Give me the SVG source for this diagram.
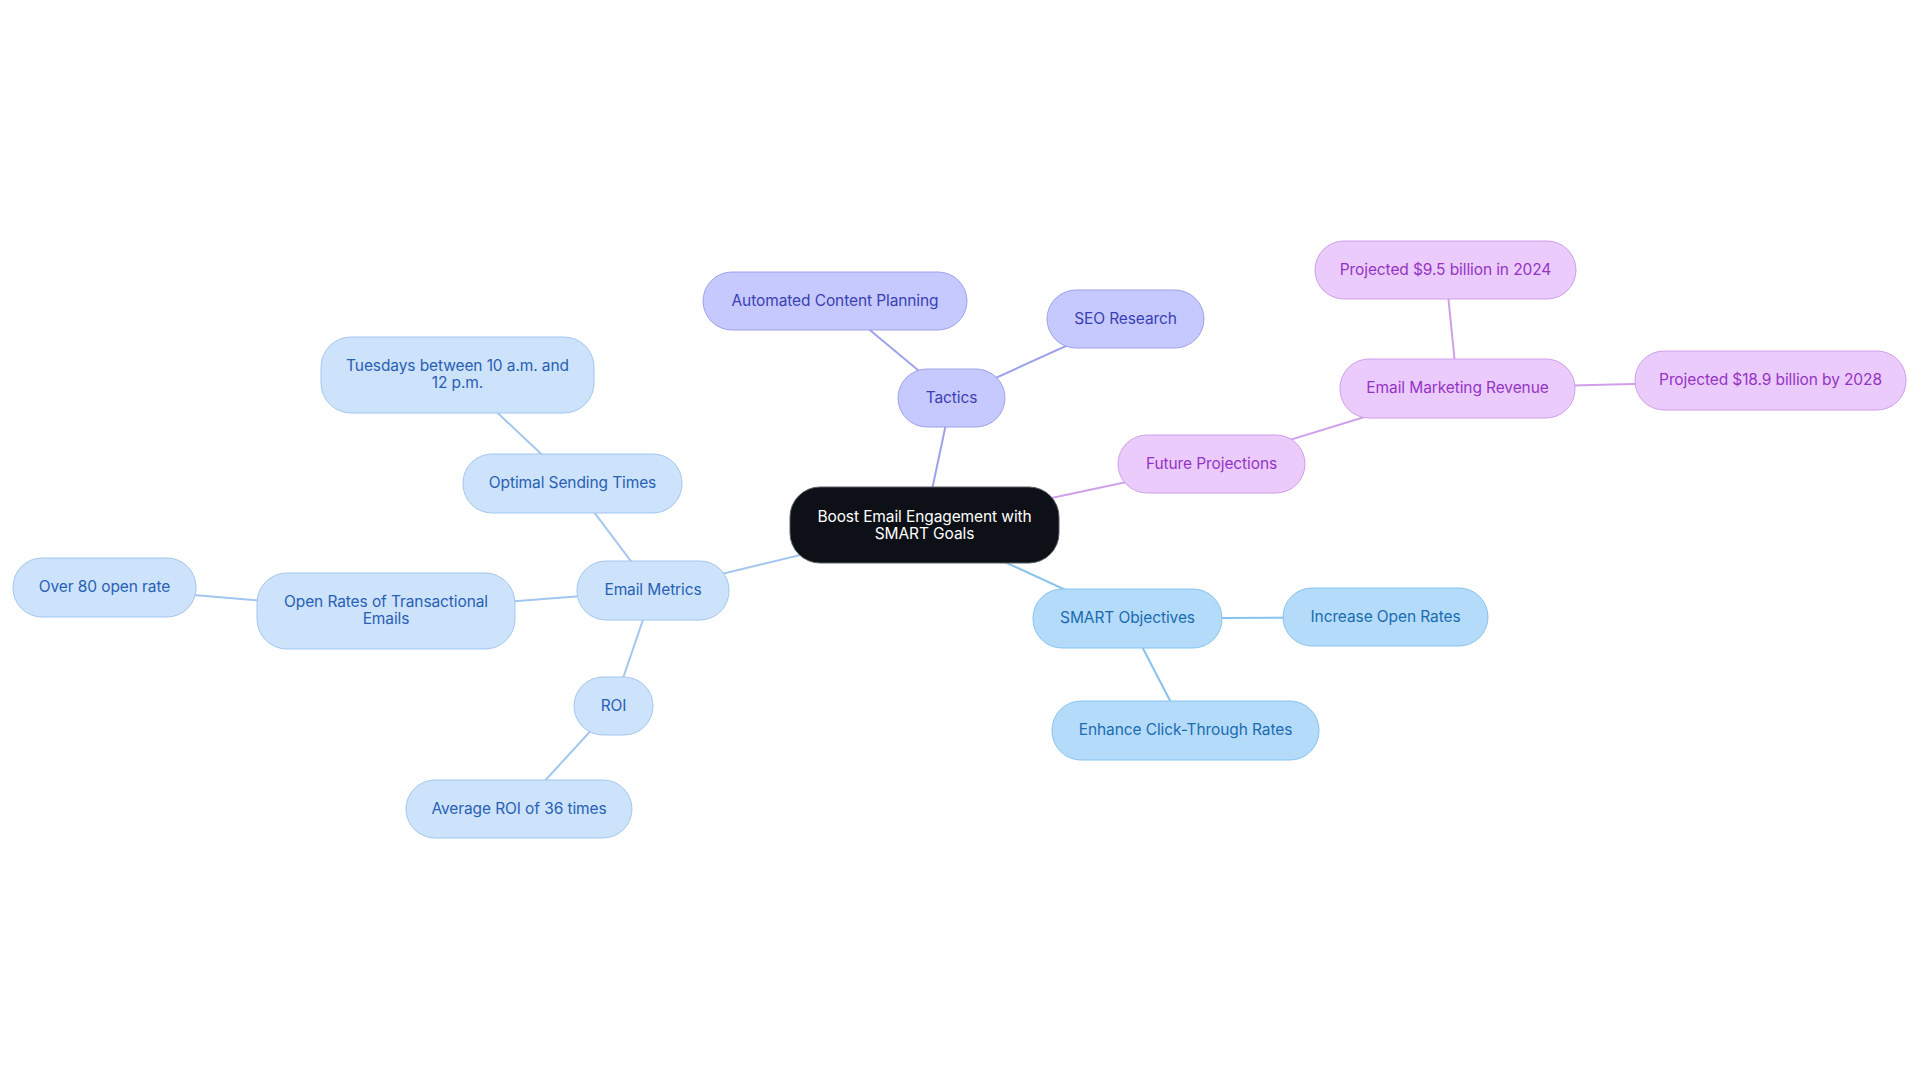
<svg xmlns="http://www.w3.org/2000/svg" width="1920" height="1083" viewBox="0 0 1920 1083">
<style>
text{font-family:Inter,"Noto Sans","Liberation Sans",sans-serif;font-size:15.5px;text-anchor:middle;dominant-baseline:central;letter-spacing:-0.1px}
.e{stroke-width:2;fill:none}
.root rect{fill:#0d1117;stroke:#5a5f66;stroke-width:1}
.root text{fill:#ffffff}
.ind rect{fill:#c6c9fd;stroke:#9ea2ea;stroke-width:1}
.ind text{fill:#3a3fb2}
.pur rect{fill:#ebcbfc;stroke:#cf9fea;stroke-width:1}
.pur text{fill:#9434c4}
.sky rect{fill:#b4dcfa;stroke:#88c3ef;stroke-width:1}
.sky text{fill:#1b6bb0}
.blu rect{fill:#cde3fb;stroke:#a3c6ee;stroke-width:1}
.blu text{fill:#2860b4}
</style>
<rect width="1920" height="1083" fill="#ffffff"/>
<g id="connectors">
<line class="e" stroke="#9ea2ea" x1="924.5" y1="525" x2="951.5" y2="398"/>
<line class="e" stroke="#9ea2ea" x1="951.5" y1="398" x2="835" y2="301"/>
<line class="e" stroke="#9ea2ea" x1="951.5" y1="398" x2="1125.5" y2="319"/>
<line class="e" stroke="#cf9fea" x1="924.5" y1="525" x2="1211.5" y2="464"/>
<line class="e" stroke="#cf9fea" x1="1211.5" y1="464" x2="1457.5" y2="388.5"/>
<line class="e" stroke="#cf9fea" x1="1457.5" y1="388.5" x2="1445.5" y2="270"/>
<line class="e" stroke="#cf9fea" x1="1457.5" y1="388.5" x2="1770.5" y2="380.5"/>
<line class="e" stroke="#88c3ef" x1="924.5" y1="525" x2="1127.5" y2="618.5"/>
<line class="e" stroke="#88c3ef" x1="1127.5" y1="618.5" x2="1385.5" y2="617"/>
<line class="e" stroke="#88c3ef" x1="1127.5" y1="618.5" x2="1185.5" y2="730.5"/>
<line class="e" stroke="#a3c6ee" x1="924.5" y1="525" x2="653" y2="590.5"/>
<line class="e" stroke="#a3c6ee" x1="653" y1="590.5" x2="572.5" y2="483.5"/>
<line class="e" stroke="#a3c6ee" x1="572.5" y1="483.5" x2="457.5" y2="375"/>
<line class="e" stroke="#a3c6ee" x1="653" y1="590.5" x2="386" y2="611"/>
<line class="e" stroke="#a3c6ee" x1="386" y1="611" x2="104.5" y2="587.5"/>
<line class="e" stroke="#a3c6ee" x1="653" y1="590.5" x2="613.5" y2="706"/>
<line class="e" stroke="#a3c6ee" x1="613.5" y1="706" x2="519" y2="809"/>
</g>
<g id="root" class="root"><rect x="790" y="487" width="269" height="76" rx="30"/><text x="924.5" y="516">Boost Email Engagement with</text><text x="924.5" y="533">SMART Goals</text></g>
<g id="tactics" class="ind"><rect x="898" y="369" width="107" height="58" rx="29"/><text x="951.5" y="397">Tactics</text></g>
<g id="automated-content-planning" class="ind"><rect x="703" y="272" width="264" height="58" rx="29"/><text x="835" y="300">Automated Content Planning</text></g>
<g id="seo-research" class="ind"><rect x="1047" y="290" width="157" height="58" rx="29"/><text x="1125.5" y="318">SEO Research</text></g>
<g id="future-projections" class="pur"><rect x="1118" y="435" width="187" height="58" rx="29"/><text x="1211.5" y="463">Future Projections</text></g>
<g id="email-marketing-revenue" class="pur"><rect x="1340" y="359" width="235" height="59" rx="29"/><text x="1457.5" y="387.5">Email Marketing Revenue</text></g>
<g id="projected-2024" class="pur"><rect x="1315" y="241" width="261" height="58" rx="29"/><text x="1445.5" y="269">Projected $9.5 billion in 2024</text></g>
<g id="projected-2028" class="pur"><rect x="1635" y="351" width="271" height="59" rx="29"/><text x="1770.5" y="379.5">Projected $18.9 billion by 2028</text></g>
<g id="smart-objectives" class="sky"><rect x="1033" y="589" width="189" height="59" rx="29"/><text x="1127.5" y="617.5">SMART Objectives</text></g>
<g id="increase-open-rates" class="sky"><rect x="1283" y="588" width="205" height="58" rx="29"/><text x="1385.5" y="616">Increase Open Rates</text></g>
<g id="enhance-ctr" class="sky"><rect x="1052" y="701" width="267" height="59" rx="29"/><text x="1185.5" y="729.5">Enhance Click-Through Rates</text></g>
<g id="email-metrics" class="blu"><rect x="577" y="561" width="152" height="59" rx="29"/><text x="653" y="589.5">Email Metrics</text></g>
<g id="optimal-sending-times" class="blu"><rect x="463" y="454" width="219" height="59" rx="29"/><text x="572.5" y="482.5">Optimal Sending Times</text></g>
<g id="tuesdays" class="blu"><rect x="321" y="337" width="273" height="76" rx="30"/><text x="457.5" y="365">Tuesdays between 10 a.m. and</text><text x="457.5" y="382">12 p.m.</text></g>
<g id="open-rates-transactional" class="blu"><rect x="257" y="573" width="258" height="76" rx="30"/><text x="386" y="601">Open Rates of Transactional</text><text x="386" y="618">Emails</text></g>
<g id="over-80" class="blu"><rect x="13" y="558" width="183" height="59" rx="29"/><text x="104.5" y="586.5">Over 80 open rate</text></g>
<g id="roi" class="blu"><rect x="574" y="677" width="79" height="58" rx="29"/><text x="613.5" y="705">ROI</text></g>
<g id="average-roi" class="blu"><rect x="406" y="780" width="226" height="58" rx="29"/><text x="519" y="808">Average ROI of 36 times</text></g>
</svg>
